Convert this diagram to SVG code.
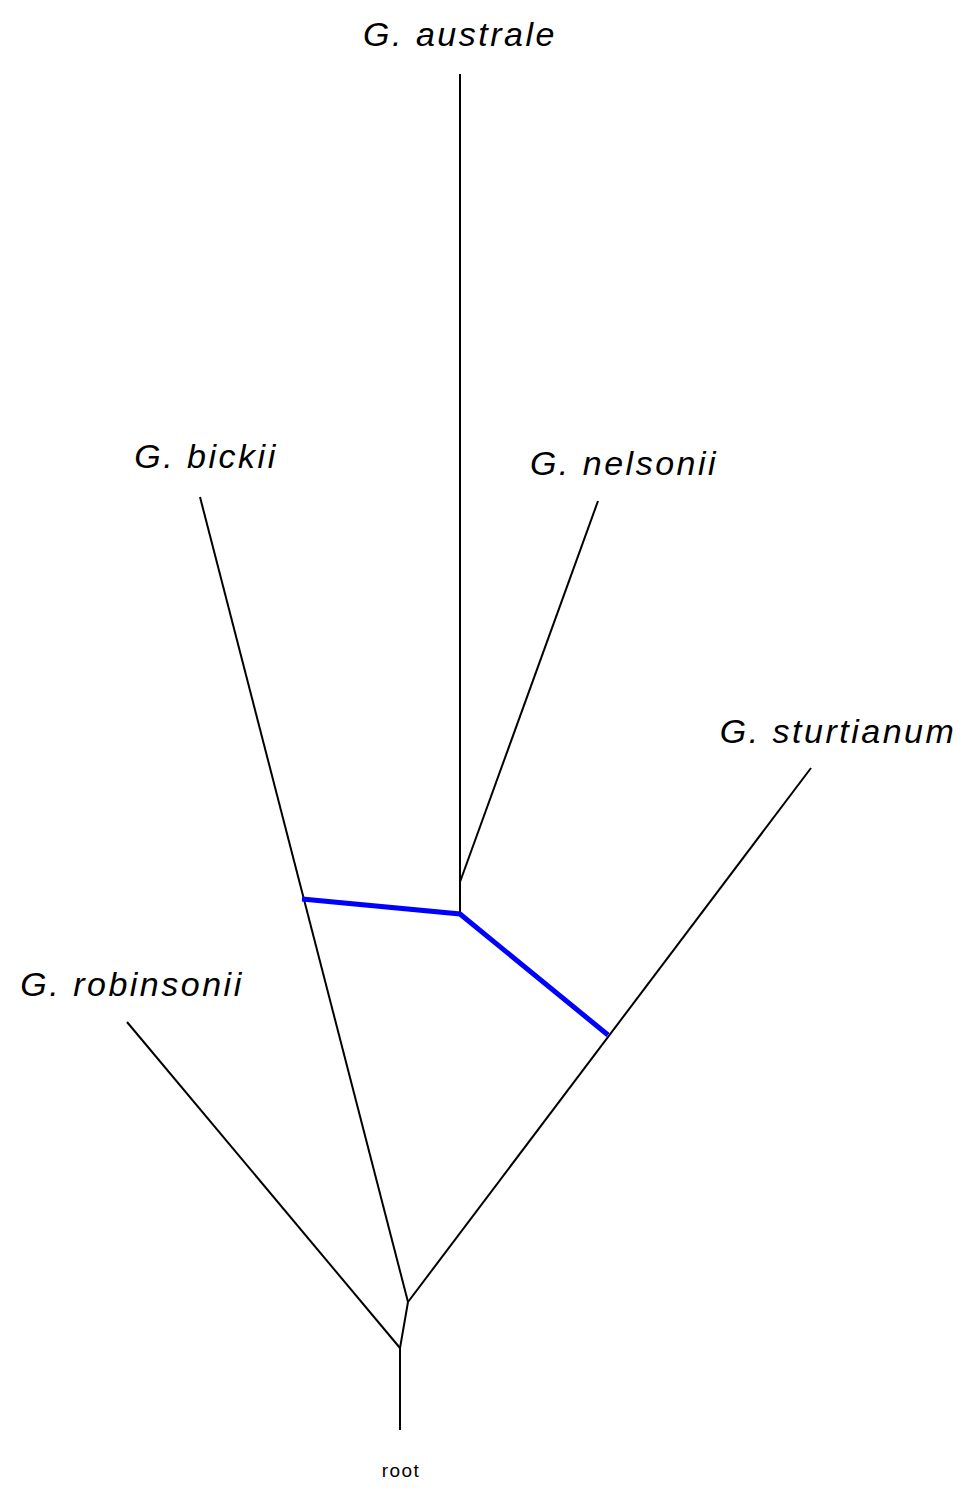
<svg xmlns="http://www.w3.org/2000/svg" width="978" height="1506" viewBox="0 0 978 1506">
<style>
.e{stroke:#000;stroke-width:2;fill:none}
.b{stroke:#0000ff;stroke-width:5;fill:none}
.t{font-family:"Liberation Sans",Arial,sans-serif;font-style:italic;font-size:34px;letter-spacing:2.5px;text-anchor:middle;fill:#000}
.r{font-family:"Liberation Sans",Arial,sans-serif;font-size:19px;letter-spacing:1.5px;text-anchor:middle;fill:#000}
</style>
<rect width="978" height="1506" fill="#fff"/>
<g id="connectors">
<path class="e" d="M400,1430L400,1348L408,1302"/>
<path class="e" d="M400,1348L127,1022"/>
<path class="e" d="M408,1302L200,497"/>
<path class="e" d="M408,1302L811,768"/>
<path class="e" d="M460,914L460,882L460,74"/>
<path class="e" d="M460,882L598,501"/>
<path class="b" d="M302,899L460,914L608,1035"/>
</g>
<g id="australe"><text class="t" x="460" y="46">G. australe</text></g>
<g id="bickii"><text class="t" x="206" y="468">G. bickii</text></g>
<g id="nelsonii"><text class="t" x="624" y="475">G. nelsonii</text></g>
<g id="sturtianum"><text class="t" x="838" y="743">G. sturtianum</text></g>
<g id="robinsonii"><text class="t" x="132" y="996">G. robinsonii</text></g>
<g id="root"><text class="r" x="401" y="1477">root</text></g>
</svg>
